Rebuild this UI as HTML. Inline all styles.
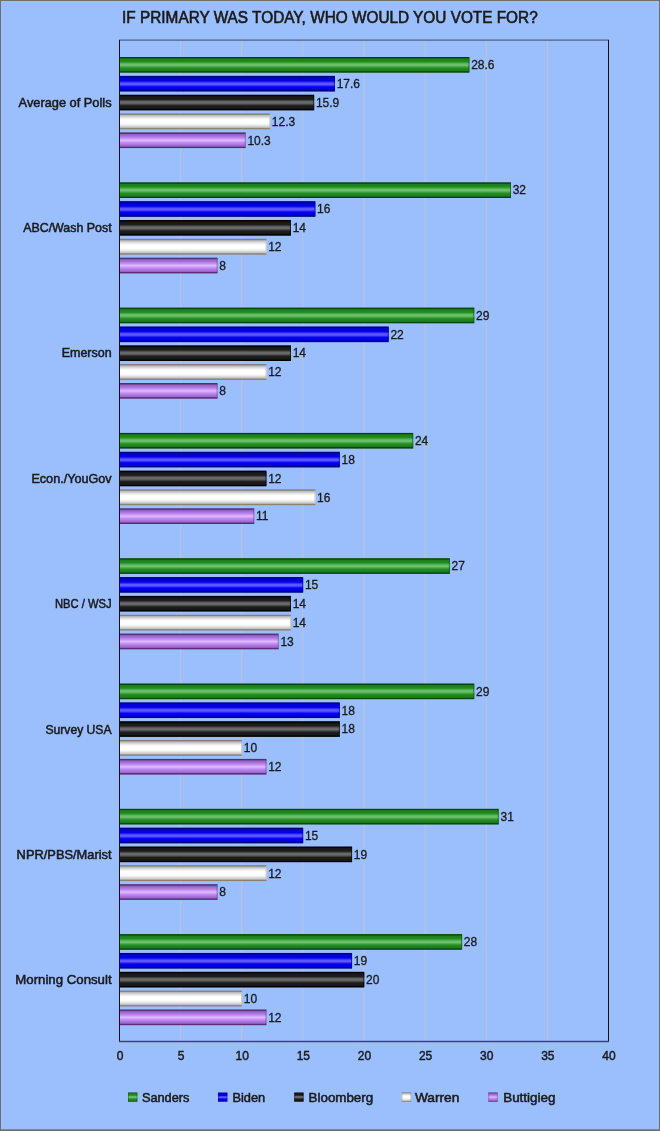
<!DOCTYPE html>
<html lang="en"><head><meta charset="utf-8"><title>If primary was today, who would you vote for?</title>
<style>html,body{margin:0;padding:0;background:#9bbefd}body{width:660px;height:1131px;overflow:hidden}svg{display:block}
text{font-family:"Liberation Sans","DejaVu Sans",sans-serif;fill:#1a1a1a}
.t{font-size:16px;stroke:#1a1a1a;stroke-width:.6px}.c{font-size:12.1px;stroke:#1a1a1a;stroke-width:.5px;text-anchor:end}.d{font-size:12px;stroke:#1a1a1a;stroke-width:.3px}.x{font-size:12px;stroke:#1a1a1a;stroke-width:.45px;text-anchor:middle}.l{font-size:12.1px;stroke:#1a1a1a;stroke-width:.5px}
</style></head><body>
<svg width="660" height="1131" viewBox="0 0 660 1131">
<defs>
<linearGradient id="g" x1="0" y1="0" x2="0" y2="1"><stop offset="0" stop-color="#063c06"/><stop offset="0.07" stop-color="#0a480a"/><stop offset="0.11" stop-color="#1b7a1b"/><stop offset="0.3" stop-color="#209020"/><stop offset="0.45" stop-color="#6cbd6c"/><stop offset="0.53" stop-color="#70c070"/><stop offset="0.7" stop-color="#229022"/><stop offset="0.89" stop-color="#1a7a1a"/><stop offset="0.93" stop-color="#0a480a"/><stop offset="1" stop-color="#063c06"/></linearGradient>
<linearGradient id="b" x1="0" y1="0" x2="0" y2="1"><stop offset="0" stop-color="#000070"/><stop offset="0.07" stop-color="#000080"/><stop offset="0.11" stop-color="#0000d0"/><stop offset="0.32" stop-color="#0000ec"/><stop offset="0.47" stop-color="#5f56ff"/><stop offset="0.55" stop-color="#6258ff"/><stop offset="0.7" stop-color="#0000ff"/><stop offset="0.89" stop-color="#0000d4"/><stop offset="0.93" stop-color="#000080"/><stop offset="1" stop-color="#000070"/></linearGradient>
<linearGradient id="k" x1="0" y1="0" x2="0" y2="1"><stop offset="0" stop-color="#000"/><stop offset="0.07" stop-color="#000"/><stop offset="0.11" stop-color="#161616"/><stop offset="0.3" stop-color="#1e1e1e"/><stop offset="0.44" stop-color="#686868"/><stop offset="0.54" stop-color="#6a6a6a"/><stop offset="0.7" stop-color="#1e1e1e"/><stop offset="0.89" stop-color="#161616"/><stop offset="0.93" stop-color="#000"/><stop offset="1" stop-color="#000"/></linearGradient>
<linearGradient id="w" x1="0" y1="0" x2="0" y2="1"><stop offset="0" stop-color="#74706a"/><stop offset="0.06" stop-color="#8a8680"/><stop offset="0.12" stop-color="#bcbcbc"/><stop offset="0.3" stop-color="#f0f0f0"/><stop offset="0.4" stop-color="#fff"/><stop offset="0.6" stop-color="#fff"/><stop offset="0.72" stop-color="#eee"/><stop offset="0.88" stop-color="#c2c2c2"/><stop offset="0.94" stop-color="#948a78"/><stop offset="1" stop-color="#7e735f"/></linearGradient>
<linearGradient id="p" x1="0" y1="0" x2="0" y2="1"><stop offset="0" stop-color="#4e2a68"/><stop offset="0.07" stop-color="#5a3274"/><stop offset="0.12" stop-color="#8e5fba"/><stop offset="0.34" stop-color="#bd84f2"/><stop offset="0.5" stop-color="#e0bcff"/><stop offset="0.66" stop-color="#c088f5"/><stop offset="0.88" stop-color="#9666c6"/><stop offset="0.93" stop-color="#642c78"/><stop offset="1" stop-color="#5a2670"/></linearGradient>
</defs>
<rect x="0" y="0" width="660" height="1131" fill="#9bbefd"/>
<rect x="0" y="0" width="660" height="1" fill="#6f6f6f"/><rect x="0" y="0" width="1" height="1131" fill="#6f6f6f"/><rect x="659" y="0" width="1" height="1131" fill="#6f6f6f"/><rect x="0" y="1129.3" width="660" height="1.7" fill="#6f6f6f"/>
<text class="t" x="329.9" y="22.6" text-anchor="middle" textLength="415.6" lengthAdjust="spacingAndGlyphs">IF PRIMARY WAS TODAY, WHO WOULD YOU VOTE FOR?</text>
<rect x="180.07" y="40.5" width="1.1" height="1001.0" fill="#b9c4d8"/>
<rect x="241.20" y="40.5" width="1.1" height="1001.0" fill="#b9c4d8"/>
<rect x="302.32" y="40.5" width="1.1" height="1001.0" fill="#b9c4d8"/>
<rect x="363.45" y="40.5" width="1.1" height="1001.0" fill="#b9c4d8"/>
<rect x="424.57" y="40.5" width="1.1" height="1001.0" fill="#b9c4d8"/>
<rect x="485.70" y="40.5" width="1.1" height="1001.0" fill="#b9c4d8"/>
<rect x="546.83" y="40.5" width="1.1" height="1001.0" fill="#b9c4d8"/>
<rect x="119.50" y="57.00" width="349.94" height="15.7" fill="url(#g)"/>
<rect x="468.44" y="58.00" width="1" height="13.7" fill="#0c5c0c" opacity="0.7"/>
<text class="d" x="471.13" y="69.15">28.6</text>
<rect x="119.50" y="75.85" width="215.46" height="15.7" fill="url(#b)"/>
<rect x="333.96" y="76.85" width="1" height="13.7" fill="#0000a8" opacity="0.7"/>
<text class="d" x="336.66" y="88.00">17.6</text>
<rect x="119.50" y="94.70" width="194.68" height="15.7" fill="url(#k)"/>
<rect x="313.18" y="95.70" width="1" height="13.7" fill="#0a0a0a" opacity="0.7"/>
<text class="d" x="315.88" y="106.85">15.9</text>
<rect x="119.50" y="113.55" width="150.67" height="15.7" fill="url(#w)"/>
<rect x="269.17" y="114.55" width="1" height="13.7" fill="#c9bca8" opacity="0.7"/>
<text class="d" x="271.87" y="125.70">12.3</text>
<rect x="119.50" y="132.40" width="126.22" height="15.7" fill="url(#p)"/>
<rect x="244.72" y="133.40" width="1" height="13.7" fill="#7a4aa0" opacity="0.7"/>
<text class="d" x="247.42" y="144.55">10.3</text>
<text class="c" x="111.6" y="106.75" textLength="93.0" lengthAdjust="spacingAndGlyphs">Average of Polls</text>
<rect x="119.50" y="182.30" width="391.50" height="15.7" fill="url(#g)"/>
<rect x="510.00" y="183.30" width="1" height="13.7" fill="#0c5c0c" opacity="0.7"/>
<text class="d" x="512.70" y="194.45">32</text>
<rect x="119.50" y="201.15" width="195.90" height="15.7" fill="url(#b)"/>
<rect x="314.40" y="202.15" width="1" height="13.7" fill="#0000a8" opacity="0.7"/>
<text class="d" x="317.10" y="213.30">16</text>
<rect x="119.50" y="220.00" width="171.45" height="15.7" fill="url(#k)"/>
<rect x="289.95" y="221.00" width="1" height="13.7" fill="#0a0a0a" opacity="0.7"/>
<text class="d" x="292.65" y="232.15">14</text>
<rect x="119.50" y="238.85" width="147.00" height="15.7" fill="url(#w)"/>
<rect x="265.50" y="239.85" width="1" height="13.7" fill="#c9bca8" opacity="0.7"/>
<text class="d" x="268.20" y="251.00">12</text>
<rect x="119.50" y="257.70" width="98.10" height="15.7" fill="url(#p)"/>
<rect x="216.60" y="258.70" width="1" height="13.7" fill="#7a4aa0" opacity="0.7"/>
<text class="d" x="219.30" y="269.85">8</text>
<text class="c" x="111.6" y="232.10" textLength="88.4" lengthAdjust="spacingAndGlyphs">ABC/Wash Post</text>
<rect x="119.50" y="307.60" width="354.82" height="15.7" fill="url(#g)"/>
<rect x="473.32" y="308.60" width="1" height="13.7" fill="#0c5c0c" opacity="0.7"/>
<text class="d" x="476.02" y="319.75">29</text>
<rect x="119.50" y="326.45" width="269.25" height="15.7" fill="url(#b)"/>
<rect x="387.75" y="327.45" width="1" height="13.7" fill="#0000a8" opacity="0.7"/>
<text class="d" x="390.45" y="338.60">22</text>
<rect x="119.50" y="345.30" width="171.45" height="15.7" fill="url(#k)"/>
<rect x="289.95" y="346.30" width="1" height="13.7" fill="#0a0a0a" opacity="0.7"/>
<text class="d" x="292.65" y="357.45">14</text>
<rect x="119.50" y="364.15" width="147.00" height="15.7" fill="url(#w)"/>
<rect x="265.50" y="365.15" width="1" height="13.7" fill="#c9bca8" opacity="0.7"/>
<text class="d" x="268.20" y="376.30">12</text>
<rect x="119.50" y="383.00" width="98.10" height="15.7" fill="url(#p)"/>
<rect x="216.60" y="384.00" width="1" height="13.7" fill="#7a4aa0" opacity="0.7"/>
<text class="d" x="219.30" y="395.15">8</text>
<text class="c" x="111.6" y="357.45" textLength="49.9" lengthAdjust="spacingAndGlyphs">Emerson</text>
<rect x="119.50" y="432.90" width="293.70" height="15.7" fill="url(#g)"/>
<rect x="412.20" y="433.90" width="1" height="13.7" fill="#0c5c0c" opacity="0.7"/>
<text class="d" x="414.90" y="445.05">24</text>
<rect x="119.50" y="451.75" width="220.35" height="15.7" fill="url(#b)"/>
<rect x="338.85" y="452.75" width="1" height="13.7" fill="#0000a8" opacity="0.7"/>
<text class="d" x="341.55" y="463.90">18</text>
<rect x="119.50" y="470.60" width="147.00" height="15.7" fill="url(#k)"/>
<rect x="265.50" y="471.60" width="1" height="13.7" fill="#0a0a0a" opacity="0.7"/>
<text class="d" x="268.20" y="482.75">12</text>
<rect x="119.50" y="489.45" width="195.90" height="15.7" fill="url(#w)"/>
<rect x="314.40" y="490.45" width="1" height="13.7" fill="#c9bca8" opacity="0.7"/>
<text class="d" x="317.10" y="501.60">16</text>
<rect x="119.50" y="508.30" width="134.78" height="15.7" fill="url(#p)"/>
<rect x="253.28" y="509.30" width="1" height="13.7" fill="#7a4aa0" opacity="0.7"/>
<text class="d" x="255.97" y="520.45">11</text>
<text class="c" x="111.6" y="482.80" textLength="80.2" lengthAdjust="spacingAndGlyphs">Econ./YouGov</text>
<rect x="119.50" y="558.20" width="330.38" height="15.7" fill="url(#g)"/>
<rect x="448.88" y="559.20" width="1" height="13.7" fill="#0c5c0c" opacity="0.7"/>
<text class="d" x="451.57" y="570.35">27</text>
<rect x="119.50" y="577.05" width="183.68" height="15.7" fill="url(#b)"/>
<rect x="302.18" y="578.05" width="1" height="13.7" fill="#0000a8" opacity="0.7"/>
<text class="d" x="304.88" y="589.20">15</text>
<rect x="119.50" y="595.90" width="171.45" height="15.7" fill="url(#k)"/>
<rect x="289.95" y="596.90" width="1" height="13.7" fill="#0a0a0a" opacity="0.7"/>
<text class="d" x="292.65" y="608.05">14</text>
<rect x="119.50" y="614.75" width="171.45" height="15.7" fill="url(#w)"/>
<rect x="289.95" y="615.75" width="1" height="13.7" fill="#c9bca8" opacity="0.7"/>
<text class="d" x="292.65" y="626.90">14</text>
<rect x="119.50" y="633.60" width="159.22" height="15.7" fill="url(#p)"/>
<rect x="277.73" y="634.60" width="1" height="13.7" fill="#7a4aa0" opacity="0.7"/>
<text class="d" x="280.43" y="645.75">13</text>
<text class="c" x="111.6" y="608.15" textLength="56.6" lengthAdjust="spacingAndGlyphs">NBC / WSJ</text>
<rect x="119.50" y="683.50" width="354.82" height="15.7" fill="url(#g)"/>
<rect x="473.32" y="684.50" width="1" height="13.7" fill="#0c5c0c" opacity="0.7"/>
<text class="d" x="476.02" y="695.65">29</text>
<rect x="119.50" y="702.35" width="220.35" height="15.7" fill="url(#b)"/>
<rect x="338.85" y="703.35" width="1" height="13.7" fill="#0000a8" opacity="0.7"/>
<text class="d" x="341.55" y="714.50">18</text>
<rect x="119.50" y="721.20" width="220.35" height="15.7" fill="url(#k)"/>
<rect x="338.85" y="722.20" width="1" height="13.7" fill="#0a0a0a" opacity="0.7"/>
<text class="d" x="341.55" y="733.35">18</text>
<rect x="119.50" y="740.05" width="122.55" height="15.7" fill="url(#w)"/>
<rect x="241.05" y="741.05" width="1" height="13.7" fill="#c9bca8" opacity="0.7"/>
<text class="d" x="243.75" y="752.20">10</text>
<rect x="119.50" y="758.90" width="147.00" height="15.7" fill="url(#p)"/>
<rect x="265.50" y="759.90" width="1" height="13.7" fill="#7a4aa0" opacity="0.7"/>
<text class="d" x="268.20" y="771.05">12</text>
<text class="c" x="111.6" y="733.50" textLength="66.2" lengthAdjust="spacingAndGlyphs">Survey USA</text>
<rect x="119.50" y="808.80" width="379.27" height="15.7" fill="url(#g)"/>
<rect x="497.77" y="809.80" width="1" height="13.7" fill="#0c5c0c" opacity="0.7"/>
<text class="d" x="500.47" y="820.95">31</text>
<rect x="119.50" y="827.65" width="183.68" height="15.7" fill="url(#b)"/>
<rect x="302.18" y="828.65" width="1" height="13.7" fill="#0000a8" opacity="0.7"/>
<text class="d" x="304.88" y="839.80">15</text>
<rect x="119.50" y="846.50" width="232.58" height="15.7" fill="url(#k)"/>
<rect x="351.08" y="847.50" width="1" height="13.7" fill="#0a0a0a" opacity="0.7"/>
<text class="d" x="353.78" y="858.65">19</text>
<rect x="119.50" y="865.35" width="147.00" height="15.7" fill="url(#w)"/>
<rect x="265.50" y="866.35" width="1" height="13.7" fill="#c9bca8" opacity="0.7"/>
<text class="d" x="268.20" y="877.50">12</text>
<rect x="119.50" y="884.20" width="98.10" height="15.7" fill="url(#p)"/>
<rect x="216.60" y="885.20" width="1" height="13.7" fill="#7a4aa0" opacity="0.7"/>
<text class="d" x="219.30" y="896.35">8</text>
<text class="c" x="111.6" y="858.85" textLength="95.0" lengthAdjust="spacingAndGlyphs">NPR/PBS/Marist</text>
<rect x="119.50" y="934.10" width="342.60" height="15.7" fill="url(#g)"/>
<rect x="461.10" y="935.10" width="1" height="13.7" fill="#0c5c0c" opacity="0.7"/>
<text class="d" x="463.80" y="946.25">28</text>
<rect x="119.50" y="952.95" width="232.58" height="15.7" fill="url(#b)"/>
<rect x="351.08" y="953.95" width="1" height="13.7" fill="#0000a8" opacity="0.7"/>
<text class="d" x="353.78" y="965.10">19</text>
<rect x="119.50" y="971.80" width="244.80" height="15.7" fill="url(#k)"/>
<rect x="363.30" y="972.80" width="1" height="13.7" fill="#0a0a0a" opacity="0.7"/>
<text class="d" x="366.00" y="983.95">20</text>
<rect x="119.50" y="990.65" width="122.55" height="15.7" fill="url(#w)"/>
<rect x="241.05" y="991.65" width="1" height="13.7" fill="#c9bca8" opacity="0.7"/>
<text class="d" x="243.75" y="1002.80">10</text>
<rect x="119.50" y="1009.50" width="147.00" height="15.7" fill="url(#p)"/>
<rect x="265.50" y="1010.50" width="1" height="13.7" fill="#7a4aa0" opacity="0.7"/>
<text class="d" x="268.20" y="1021.65">12</text>
<text class="c" x="111.6" y="984.20" textLength="96.3" lengthAdjust="spacingAndGlyphs">Morning Consult</text>
<rect x="119" y="39.4" width="490" height="1.4" fill="#586a90"/>
<rect x="119" y="40" width="1" height="1002" fill="#111"/>
<rect x="608" y="40" width="1" height="1002" fill="#111"/>
<rect x="119" y="1040.8" width="490" height="1.4" fill="#38445e"/>
<text class="x" x="120.00" y="1059.7">0</text>
<text class="x" x="181.12" y="1059.7">5</text>
<text class="x" x="242.25" y="1059.7">10</text>
<text class="x" x="303.38" y="1059.7">15</text>
<text class="x" x="364.50" y="1059.7">20</text>
<text class="x" x="425.62" y="1059.7">25</text>
<text class="x" x="486.75" y="1059.7">30</text>
<text class="x" x="547.88" y="1059.7">35</text>
<text class="x" x="609.00" y="1059.7">40</text>
<rect x="128.0" y="1092.5" width="9.4" height="9.2" fill="url(#g)"/>
<rect x="128.0" y="1093" width="0.9" height="8.2" fill="#0a480a" opacity="0.4"/><rect x="136.5" y="1093" width="0.9" height="8.2" fill="#0a480a" opacity="0.4"/>
<text class="l" x="141.9" y="1101.8" textLength="47.5" lengthAdjust="spacingAndGlyphs">Sanders</text>
<rect x="218.0" y="1092.5" width="9.4" height="9.2" fill="url(#b)"/>
<rect x="218.0" y="1093" width="0.9" height="8.2" fill="#000080" opacity="0.4"/><rect x="226.5" y="1093" width="0.9" height="8.2" fill="#000080" opacity="0.4"/>
<text class="l" x="232.4" y="1101.8" textLength="32.8" lengthAdjust="spacingAndGlyphs">Biden</text>
<rect x="294.2" y="1092.5" width="9.4" height="9.2" fill="url(#k)"/>
<rect x="294.2" y="1093" width="0.9" height="8.2" fill="#000" opacity="0.4"/><rect x="302.7" y="1093" width="0.9" height="8.2" fill="#000" opacity="0.4"/>
<text class="l" x="308.6" y="1101.8" textLength="64.6" lengthAdjust="spacingAndGlyphs">Bloomberg</text>
<rect x="401.7" y="1092.5" width="9.4" height="9.2" fill="url(#w)"/>
<rect x="401.7" y="1093" width="0.9" height="8.2" fill="#8a8478" opacity="0.4"/><rect x="410.2" y="1093" width="0.9" height="8.2" fill="#8a8478" opacity="0.4"/>
<text class="l" x="414.9" y="1101.8" textLength="44.5" lengthAdjust="spacingAndGlyphs">Warren</text>
<rect x="488.3" y="1092.5" width="9.4" height="9.2" fill="url(#p)"/>
<rect x="488.3" y="1093" width="0.9" height="8.2" fill="#5a3274" opacity="0.4"/><rect x="496.8" y="1093" width="0.9" height="8.2" fill="#5a3274" opacity="0.4"/>
<text class="l" x="503.2" y="1101.8" textLength="52.3" lengthAdjust="spacingAndGlyphs">Buttigieg</text>
</svg></body></html>
